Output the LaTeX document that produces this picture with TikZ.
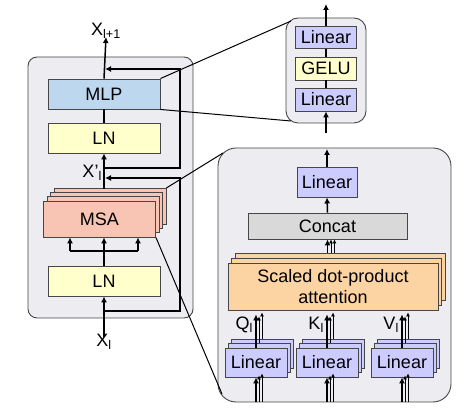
\documentclass[tikz,border=0pt]{standalone}
\usepackage{fontspec}
\setmainfont{Liberation Sans}
\usetikzlibrary{arrows.meta,calc}

\definecolor{panelgray}{RGB}{236,236,241}
\definecolor{edgegray}{RGB}{70,70,70}
\definecolor{mlpblue}{RGB}{189,215,238}
\definecolor{lnyellow}{RGB}{255,255,204}
\definecolor{msared}{RGB}{248,196,180}
\definecolor{sdpaorange}{RGB}{252,211,162}
\definecolor{linlav}{RGB}{204,204,255}
\definecolor{concatgray}{RGB}{217,217,217}

\tikzset{
  blk/.style={draw=edgegray, line width=0.9pt, inner sep=0pt, font=\fontsize{18}{21}\selectfont},
  lbl/.style={inner sep=0pt, font=\fontsize{18}{21}\selectfont},
  panel/.style={draw=edgegray, line width=0.9pt, fill=panelgray},
  flow/.style={line width=1.5pt, -{Latex[length=6pt,width=6pt]}},
  thinflow/.style={line width=0.7pt, -{Latex[length=4pt,width=4pt]}},
  wire/.style={line width=1.5pt},
  zoomline/.style={line width=1pt}
}

\begin{document}
\begin{tikzpicture}[x=1pt,y=-1pt]
\useasboundingbox (0,0) rectangle (474,411);

% encoder block
\draw[panel, rounded corners=9pt] (28,57) rectangle (193,318);
\node[blk, fill=mlpblue, minimum width=112pt, minimum height=30pt] (mlp) at (104,94) {MLP};
\node[blk, fill=lnyellow, minimum width=112pt, minimum height=30pt] (ln2) at (104,138) {LN};
\foreach \k in {3,2,1}
  \node[blk, fill=msared, minimum width=112pt, minimum height=36pt, xshift=\k*3.5pt, yshift=\k*4.2pt] at (99.5,219) {};
\node[blk, fill=msared, minimum width=112pt, minimum height=36pt] (msa) at (99.5,219) {MSA};
\node[blk, fill=lnyellow, minimum width=112pt, minimum height=30pt] (ln1) at (104,281) {LN};
\node[lbl] (xin) at (104,342) {X\textsubscript{l}};
\node[lbl] (xout) at (106,31) {X\textsubscript{l+1}};
\node[lbl, anchor=east] (xmid) at (102,173) {X'\textsubscript{l}};

\coordinate (r1) at (104,311);
\coordinate (r2) at (104,168);
\coordinate (ra) at (180,178);
\coordinate (rb) at (180,69);
\coordinate (fork) at (104,251);

\draw[flow] ([yshift=-3pt]xin.north) -- (ln1.south);
\draw[wire] (ln1.north) -- (fork);
\draw[wire] ([xshift=-34pt]fork) -- ([xshift=34pt]fork);
\foreach \dx in {-34,0,34}
  \draw[flow] ([xshift=\dx pt]fork) -- ([xshift=\dx pt]fork |- msa.south);
\draw[flow] ([yshift=12pt]msa.north -| mlp) -- (ln2.south);
\draw[wire] (ln2.north) -- (mlp.south);
\draw[flow] (mlp.north) -- ([yshift=2pt]xout.south);
\draw[flow] (r1) -| (ra) -- ([xshift=1pt]ra -| mlp);
\draw[flow] (r2) -| (rb) -- ([xshift=1pt]rb -| mlp);

% MLP detail
\draw[panel, rounded corners=12pt] (286,18) rectangle (366,123);
\node[blk, fill=linlav, minimum width=61pt, minimum height=22pt] (fc2) at (326,37.5) {Linear};
\node[blk, fill=lnyellow, minimum width=61pt, minimum height=23pt] (gelu) at (326,68.5) {GELU};
\node[blk, fill=linlav, minimum width=61pt, minimum height=23pt] (fc1) at (326,99.5) {Linear};
\coordinate (mlpin) at (326,133);
\coordinate (mlpout) at (326,4);
\draw[flow] (mlpin) -- (fc1.south);
\draw[wire] (fc1) -- (gelu) -- (fc2);
\draw[flow] (fc2.north) -- (mlpout);
\coordinate (mz1) at (291,21);
\coordinate (mz2) at (291,121);
\draw[zoomline] (mlp.north east) -- (mz1);
\draw[zoomline] (mlp.south east) -- (mz2);

% attention detail
\draw[panel, rounded corners=18pt] (218,148) rectangle (451,402);
\node[blk, fill=linlav, minimum width=60pt, minimum height=30pt] (lino) at (327,182) {Linear};
\node[blk, fill=concatgray, minimum width=159pt, minimum height=26pt] (concat) at (327.5,226) {Concat};
\foreach \k in {2,1}
  \node[blk, fill=sdpaorange, minimum width=210pt, minimum height=47pt, xshift=\k*3.5pt, yshift=\k*5pt] at (333,286.5) {};
\node[blk, fill=sdpaorange, minimum width=210pt, minimum height=47pt, align=center] (sdpa) at (333,286.5) {Scaled dot-product\\attention};
\coordinate (attnout) at (327,149);

\foreach \n/\x/\t in {q/256/Q, k/327/K, v/402/V} {
  \foreach \k in {2,1}
    \node[blk, fill=linlav, minimum width=62pt, minimum height=29pt, xshift=\k*3pt, yshift=\k*4.5pt] at (\x,362.5) {};
  \node[blk, fill=linlav, minimum width=62pt, minimum height=29pt] (lin\n) at (\x,362.5) {Linear};
  \node[lbl, anchor=east] (lab\n) at ({\x-3},325) {\t\textsubscript{l}};
  \coordinate (in\n) at (\x,402);
  \draw[flow] (lin\n.north) -- ([yshift=-4pt]lin\n.north |- sdpa.south);
  \draw[thinflow] ([xshift=3pt,yshift=4.5pt]lin\n.north) -- ([xshift=3pt,yshift=-6pt]lin\n.north |- sdpa.south);
  \draw[thinflow] ([xshift=6pt,yshift=9pt]lin\n.north) -- ([xshift=6pt,yshift=-2pt]lin\n.north |- sdpa.south);
  \draw[flow] (in\n) -- (lin\n.south);
  \draw[thinflow] ([xshift=3pt]in\n) -- ([xshift=3pt,yshift=2pt]lin\n.south);
  \draw[thinflow] ([xshift=6pt]in\n) -- ([xshift=6pt,yshift=4pt]lin\n.south);
}

\draw[flow] ([yshift=10pt]sdpa.north -| concat) -- (concat.south);
\draw[thinflow] ([xshift=3.5pt,yshift=10pt]sdpa.north -| concat) -- ([xshift=3.5pt]concat.south);
\draw[thinflow] ([xshift=7pt,yshift=10pt]sdpa.north -| concat) -- ([xshift=7pt]concat.south);
\draw[flow] (concat.north) -- (lino.south);
\draw[flow] (lino.north) -- (attnout);

\coordinate (az1) at (223,153);
\coordinate (az2) at (222,394);
\draw[zoomline] ([xshift=10.5pt,yshift=12.6pt]msa.north east) -- (az1);
\draw[zoomline] (msa.south east) -- (az2);
\end{tikzpicture}
\end{document}
